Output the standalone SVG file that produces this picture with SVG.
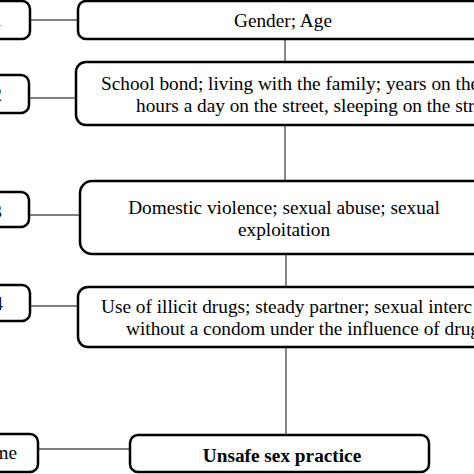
<svg xmlns="http://www.w3.org/2000/svg" width="474" height="474" viewBox="0 0 474 474">
<style>
.box{fill:#fff;stroke:#000;stroke-width:2.5}
.t{font-family:"Liberation Serif","Times New Roman",serif;font-size:19.3px;fill:#000}
.b{font-weight:bold}
.c{text-anchor:middle}
.e{text-anchor:end}
.ln{stroke:#555;stroke-width:1.4;fill:none}
</style>
<rect width="474" height="474" fill="#fff"/>
<g id="connectors">
<line class="ln" x1="30" y1="20" x2="78" y2="20"/>
<line class="ln" x1="30" y1="98" x2="76" y2="98"/>
<line class="ln" x1="30" y1="215" x2="80" y2="215"/>
<line class="ln" x1="30" y1="306" x2="78" y2="306"/>
<line class="ln" x1="38" y1="449" x2="130" y2="449"/>
<line class="ln" x1="285" y1="39" x2="285" y2="62"/>
<line class="ln" x1="285" y1="125" x2="285" y2="181"/>
<line class="ln" x1="286" y1="254" x2="286" y2="287"/>
<line class="ln" x1="286" y1="347" x2="286" y2="435"/>
</g>
<g id="level1">
<rect class="box" x="-80" y="1" width="110" height="38" rx="8"/>
<text class="t e" x="2" y="26">Level 1</text>
</g>
<g id="level2">
<rect class="box" x="-80" y="75" width="109" height="38" rx="8"/>
<text class="t e" x="2" y="101">Level 2</text>
</g>
<g id="level3">
<rect class="box" x="-80" y="192" width="109" height="35" rx="8"/>
<text class="t e" x="2" y="218">Level 3</text>
</g>
<g id="level4">
<rect class="box" x="-80" y="285" width="110" height="36" rx="8"/>
<text class="t e" x="3" y="310">Level 4</text>
</g>
<g id="outcome">
<rect class="box" x="-80" y="434" width="118" height="38" rx="8"/>
<text class="t e" x="17" y="459">Outcome</text>
</g>
<g id="n1">
<rect class="box" x="78" y="1" width="420" height="38" rx="8"/>
<text class="t c" x="283" y="27">Gender; Age</text>
</g>
<g id="n2">
<rect class="box" x="76" y="62" width="420" height="63" rx="10"/>
<text class="t" x="101" y="90">School bond; living with the family; years on the</text>
<text class="t" x="136" y="112">hours a day on the street, sleeping on the str</text>
</g>
<g id="n3">
<rect class="box" x="80" y="181" width="420" height="73" rx="12"/>
<text class="t c" x="284" y="214">Domestic violence; sexual abuse; sexual</text>
<text class="t c" x="284" y="236">exploitation</text>
</g>
<g id="n4">
<rect class="box" x="78" y="287" width="420" height="60" rx="10"/>
<text class="t" x="101" y="313">Use of illicit drugs; steady partner; sexual interc</text>
<text class="t" x="126" y="335">without a condom under the influence of drug</text>
</g>
<g id="n5">
<rect class="box" x="130" y="435" width="299" height="37" rx="8"/>
<text class="t b c" x="282" y="462">Unsafe sex practice</text>
</g>
</svg>
